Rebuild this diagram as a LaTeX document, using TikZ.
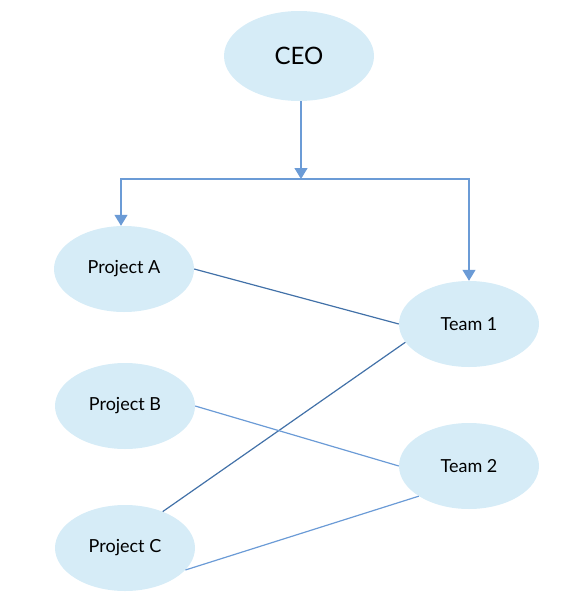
\documentclass[tikz,border=0pt]{standalone}
\usepackage{fontspec}
\setmainfont{Lato}
\usetikzlibrary{shapes.geometric, arrows.meta, positioning}
\definecolor{bubble}{RGB}{214, 236, 247}
\definecolor{linkdark}{RGB}{66, 113, 168}
\definecolor{linklight}{RGB}{107, 155, 214}

\begin{document}
\begin{tikzpicture}[x=1pt, y=-1pt,
    unit/.style={ellipse, fill=bubble, minimum width=140pt, minimum height=86pt, inner sep=0pt, font=\fontsize{18}{21}\selectfont},
    arrow/.style={-{Triangle[length=11pt, width=13pt]}, draw=linklight, line width=1.3pt},
    dark/.style={draw=linkdark, line width=1.2pt},
    light/.style={draw=linklight, line width=1.2pt}]

    \useasboundingbox (0,0) rectangle (561,600);

    % Nodes
    \node[unit, minimum width=150pt, minimum height=90pt, font=\fontsize{24}{28}\selectfont] (ceo) at (299,56) {CEO};
    \node[unit] (projA) at (124,269) {Project A};
    \node[unit] (projB) at (125,406) {Project B};
    \node[unit] (projC) at (125,548) {Project C};
    \node[unit] (team1) at (469,324) {Team 1};
    \node[unit] (team2) at (469,466) {Team 2};
    \coordinate (split) at (301,179);

    % Hierarchy
    \draw[arrow] (ceo.south -| split) -- (split);
    \draw[arrow] (split) -| ([xshift=-3pt]projA.north);
    \draw[arrow] (split) -| (team1.north);

    % Links
    \draw[dark] (projA.east) -- (team1.west);
    \draw[dark] (team1.196) -- (projC.44);
    \draw[light] (projB.east) -- (team2.west);
    \draw[light] (team2.211) -- (projC.340);
\end{tikzpicture}
\end{document}
